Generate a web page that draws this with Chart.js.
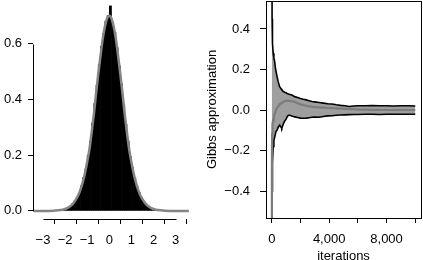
<!DOCTYPE html>
<html><head><meta charset="utf-8">
<script src="https://cdn.jsdelivr.net/npm/chart.js@4/dist/chart.umd.min.js"></script>
<style>
html,body{margin:0;padding:0;background:#fff;overflow:hidden;width:423px;height:260px}
#l{position:absolute;left:0;top:0}
#r{position:absolute;left:200px;top:0}
</style></head><body>
<canvas id="l" width="200" height="260"></canvas>
<canvas id="r" width="223" height="260"></canvas>
<script>
// ---------- left panel: histogram of draws + density ----------
const binCenters = [-2.45,-2.35,-2.25,-2.15,-2.05,-1.95,-1.85,-1.75,-1.65,-1.55,-1.45,-1.35,-1.25,-1.15,-1.05,-0.95,-0.85,-0.75,-0.65,-0.55,-0.45,-0.35,-0.25,-0.15,-0.05,
  0.05,0.15,0.25,0.35,0.45,0.55,0.65,0.75,0.85,0.95,1.05,1.15,1.25,1.35,1.45,1.55,1.65,1.75,1.85,1.95,2.05,2.15,2.25,2.35,2.45];
const binDensity = [0.001,0.002,0.003,0.004,0.005,0.008,0.012,0.017,0.026,0.036,0.048,0.065,0.09,0.12,0.15,0.2,0.25,0.315,0.385,0.45,0.525,0.59,0.635,0.68,0.70,
  0.735,0.675,0.64,0.585,0.52,0.455,0.38,0.31,0.25,0.195,0.155,0.118,0.088,0.066,0.049,0.035,0.025,0.018,0.012,0.008,0.005,0.004,0.003,0.002,0.001];
const curveX = [-3.4,-3.0,-2.5,-2.2,-2.0,-1.9,-1.8,-1.7,-1.6,-1.5,-1.4,-1.3,-1.2,-1.1,-1.0,-0.9,-0.8,-0.7,-0.6,-0.5,-0.4,-0.3,-0.2,-0.1,0,
  0.1,0.2,0.3,0.4,0.5,0.6,0.7,0.8,0.9,1.0,1.1,1.2,1.3,1.4,1.5,1.6,1.7,1.8,1.9,2.0,2.2,2.5,3.0,3.6];
const curveY = [0,0,0.001,0.003,0.007,0.010,0.015,0.021,0.030,0.042,0.057,0.077,0.103,0.135,0.175,0.22,0.28,0.345,0.42,0.49,0.555,0.615,0.66,0.69,0.70,
  0.69,0.66,0.615,0.555,0.49,0.42,0.345,0.28,0.22,0.175,0.135,0.103,0.077,0.057,0.042,0.030,0.021,0.015,0.010,0.007,0.003,0.001,0,0];
const xTicksL = [-3,-2,-1,0,1,2,3];
const yTicksL = [0,0.2,0.4,0.6];

// ---------- right panel: Gibbs running approximation ----------
const iters = [1,10,25,50,100,150,200,250,300,370,450,550,650,700,800,900,1000,1100,1200,1400,1600,1800,2000,2200,2400,2600,2800,3000,3300,3600,3900,4200,4500,4800,5100,5400,5700,6000,6500,7000,7500,8000,8500,9000,9500,10000];
const upperB = [3.0,0.9,0.45,0.33,0.28,0.26,0.24,0.21,0.19,0.165,0.14,0.115,0.105,0.10,0.092,0.088,0.085,0.08,0.078,0.074,0.066,0.062,0.057,0.053,0.05,0.046,0.042,0.04,0.037,0.034,0.031,0.03,0.026,0.023,0.021,0.017,0.02,0.021,0.021,0.022,0.021,0.021,0.02,0.021,0.021,0.02];
const lowerB = [-3.0,-0.9,-0.4,-0.26,-0.18,-0.15,-0.135,-0.12,-0.105,-0.10,-0.085,-0.075,-0.085,-0.09,-0.07,-0.055,-0.045,-0.03,-0.025,-0.03,-0.034,-0.037,-0.04,-0.041,-0.04,-0.038,-0.036,-0.035,-0.036,-0.032,-0.029,-0.028,-0.026,-0.025,-0.024,-0.023,-0.022,-0.022,-0.021,-0.021,-0.022,-0.021,-0.021,-0.021,-0.021,-0.021];
const centerM = [-2.0,-0.3,-0.12,-0.07,-0.05,-0.035,-0.02,-0.01,0.0,0.01,0.018,0.028,0.034,0.036,0.04,0.043,0.045,0.046,0.045,0.043,0.04,0.034,0.028,0.025,0.021,0.018,0.016,0.014,0.013,0.012,0.01,0.009,0.008,0.007,0.006,0.005,0.004,0.002,0.002,0.001,0.001,0.0,0.0,0.0,0.0,0.0];
const xTicksR = [0,2000,4000,6000,8000,10000];
const xLabelsR = [0,4000,8000];
const yTicksR = [-0.4,-0.2,0,0.2,0.4];

const FONT = {family:"'Liberation Sans', Arial, Helvetica, sans-serif", size:13};
const minus = s => String(s).replace('-', '\u2212');
const commas = v => String(v).replace(/\B(?=(\d{3})+(?!\d))/g, ',');

// R-style axis lines spanning only the tick range
const rAxes = {
  id: 'rAxes',
  afterDraw(chart) {
    const {ctx, chartArea, scales:{x, y}} = chart;
    ctx.save();
    ctx.strokeStyle = '#000'; ctx.lineWidth = 1;
    const xl = Math.round(chartArea.left) + 0.5;
    const yb = Math.round(chartArea.bottom) + 0.5;
    ctx.beginPath();
    ctx.moveTo(xl, Math.round(y.getPixelForValue(y.ticks[0].value)) + 0.5);
    ctx.lineTo(xl, Math.round(y.getPixelForValue(y.ticks[y.ticks.length-1].value)) + 0.5);
    ctx.moveTo(Math.round(x.getPixelForValue(x.ticks[0].value)) + 0.5, yb);
    ctx.lineTo(Math.round(x.getPixelForValue(x.ticks[x.ticks.length-1].value)) + 0.5, yb);
    ctx.stroke();
    ctx.restore();
  }
};
// full box around the plot region
const rBox = {
  id: 'rBox',
  afterDraw(chart) {
    const {ctx, chartArea:a} = chart;
    ctx.save();
    ctx.strokeStyle = '#000'; ctx.lineWidth = 1;
    ctx.strokeRect(Math.round(a.left)+0.5, Math.round(a.top)+0.5, Math.round(a.right-a.left), Math.round(a.bottom-a.top));
    ctx.restore();
  }
};

new Chart(document.getElementById('l'), {
  type: 'bar',
  data: { datasets: [
    { type:'line', data: curveX.map((x,i)=>({x, y: curveY[i]})), borderColor:'#858585', borderWidth:2.5,
      pointRadius:0, cubicInterpolationMode:'monotone', fill:false, order:0 },
    { type:'bar', data: binCenters.map((x,i)=>({x, y: binDensity[i]})), backgroundColor:'#000', borderWidth:0,
      barPercentage:1, categoryPercentage:1, order:1 }
  ]},
  options: {
    responsive:false, animation:false, events:[],
    layout:{padding:{top:2, right:10, left:0, bottom:0}},
    plugins:{legend:{display:false}, tooltip:{enabled:false}},
    scales:{
      x:{ type:'linear', min:-3.45, max:3.65, offset:false,
        afterBuildTicks: s => { s.ticks = xTicksL.map(v=>({value:v})); },
        afterFit: s => { s.height = 41; s.paddingLeft = 0; s.paddingRight = 0; },
        border:{display:false},
        grid:{drawOnChartArea:false, drawTicks:true, tickLength:5, color:'#000', lineWidth:1},
        ticks:{color:'#000', font:FONT, padding:9, maxRotation:0, autoSkip:false, callback: v => minus(v)} },
      y:{ type:'linear', min:-0.029, max:0.749,
        afterBuildTicks: s => { s.ticks = yTicksL.map(v=>({value:v})); },
        afterFit: s => { s.width = 33; s.paddingTop = 0; s.paddingBottom = 0; },
        border:{display:false},
        grid:{drawOnChartArea:false, drawTicks:true, tickLength:5, color:'#000', lineWidth:1},
        ticks:{color:'#000', font:FONT, padding:6, callback: v => minus(v.toFixed(1))} }
    }
  },
  plugins:[rAxes]
});

const pts = arr => iters.map((x,i)=>({x, y: arr[i]}));
new Chart(document.getElementById('r'), {
  type: 'line',
  data: { datasets: [
    { data: pts(upperB), borderColor:'#000', borderWidth:1.6, pointRadius:0, fill:{target:1}, backgroundColor:'#9e9e9e', order:1 },
    { data: pts(lowerB), borderColor:'#000', borderWidth:1.6, pointRadius:0, fill:false, order:1 },
    { data: pts(centerM), borderColor:'#7c7c7c', borderWidth:2.2, pointRadius:0, fill:false, order:0 }
  ]},
  options: {
    responsive:false, animation:false, events:[],
    layout:{padding:{top:1, right:2, left:0, bottom:0}},
    plugins:{legend:{display:false}, tooltip:{enabled:false}, filler:{drawTime:'beforeDatasetsDraw'}},
    scales:{
      x:{ type:'linear', min:-400, max:10400,
        afterBuildTicks: s => { s.ticks = xTicksR.map(v=>({value:v})); },
        afterFit: s => { s.height = 42; s.paddingLeft = 0; s.paddingRight = 0; },
        border:{display:false},
        grid:{drawOnChartArea:false, drawTicks:true, tickLength:5, color:'#000', lineWidth:1},
        ticks:{color:'#000', font:FONT, padding:9, maxRotation:0, autoSkip:false,
          callback: v => xLabelsR.includes(v) ? commas(v) : ''},
        title:{display:true, text:'iterations', color:'#000', font:{...FONT, lineHeight:1}, padding:{top:0, bottom:-3}} },
      y:{ type:'linear', min:-0.533, max:0.538,
        afterBuildTicks: s => { s.ticks = yTicksR.map(v=>({value:v})); },
        afterFit: s => { s.width = 66; s.paddingTop = 0; s.paddingBottom = 0; },
        border:{display:false},
        grid:{drawOnChartArea:false, drawTicks:true, tickLength:6, color:'#000', lineWidth:1},
        ticks:{color:'#000', font:FONT, padding:10, callback: v => minus(v.toFixed(1))},
        title:{display:true, text:'Gibbs approximation', color:'#000', font:{...FONT, lineHeight:1}, padding:{top:6, bottom:0}} }
    }
  },
  plugins:[rBox]
});
</script>
</body></html>
